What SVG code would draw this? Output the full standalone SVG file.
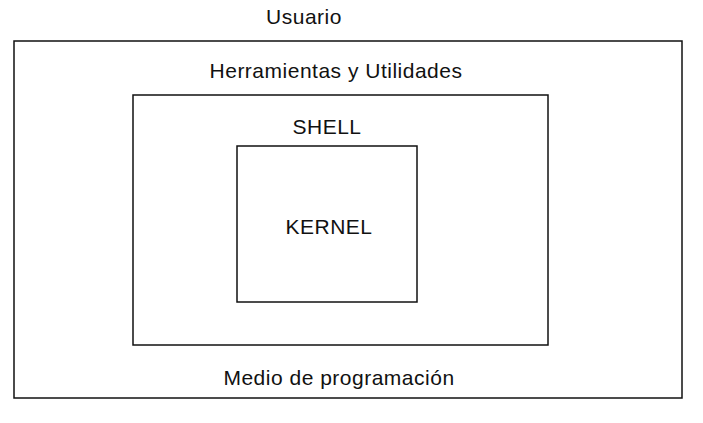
<svg xmlns="http://www.w3.org/2000/svg" width="703" height="423" viewBox="0 0 703 423">
<style>
rect{fill:none;stroke:#111;stroke-width:1.5}
text{font-family:"Liberation Sans",Arial,sans-serif;font-size:21px;letter-spacing:0.5px;fill:#111;text-anchor:middle}
</style>
<rect x="0" y="0" width="703" height="423" fill="#fff" style="fill:#fff;stroke:none"/>
<g id="usuario"><text x="304" y="24">Usuario</text></g>
<g id="herramientas"><rect x="14" y="41" width="668" height="357"/><text x="336" y="78">Herramientas y Utilidades</text><text x="339" y="385">Medio de programación</text></g>
<g id="shell"><rect x="133" y="95" width="415" height="250"/><text x="327" y="134">SHELL</text></g>
<g id="kernel"><rect x="237" y="146" width="180" height="156"/><text x="329" y="234">KERNEL</text></g>
<g id="connectors"></g>
</svg>
